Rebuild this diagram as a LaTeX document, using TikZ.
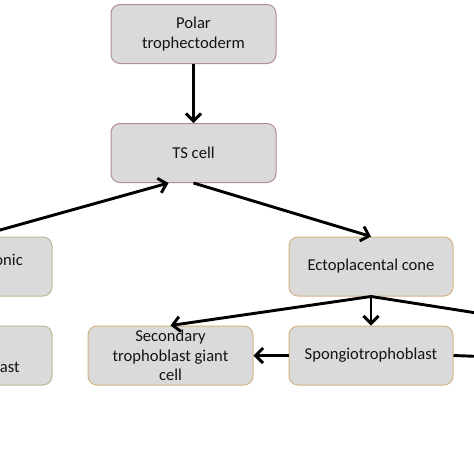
\documentclass[tikz,border=0pt]{standalone}
\usepackage{fontspec}
\setmainfont{Carlito}
\usetikzlibrary{arrows.meta}
\definecolor{boxfill}{HTML}{DADADA}
\definecolor{redline}{HTML}{B48E8E}
\definecolor{tanline}{HTML}{D4B487}
\definecolor{greenline}{HTML}{B4BE90}
\definecolor{txt}{HTML}{141414}
\begin{document}
\begin{tikzpicture}[x=1pt,y=-1pt,
  box/.style={draw, line width=1pt, fill=boxfill, rounded corners=9pt,
    minimum height=59pt, inner sep=0pt, text=txt, align=center,
    font=\fontsize{16.6}{19.5}\selectfont},
  redbox/.style={box, draw=redline, minimum width=165pt},
  tanbox/.style={box, draw=tanline, minimum width=164pt},
  greenbox/.style={box, draw=greenline, minimum width=164pt},
  frag/.style={inner sep=0pt, text=txt, font=\fontsize{16.6}{19.5}\selectfont},
  conn/.style={line width=2.9pt, black},
  arr/.style={conn, -{Straight Barb[length=7.5pt,width=15pt]}}]
\useasboundingbox (0,0) rectangle (474,474);
\fill[white] (0,0) rectangle (474,474);
\begin{scope}
\clip (0,0) rectangle (474,474);
\node[redbox] (polar) at (193.5,34) {Polar\\trophectoderm};
\node[redbox] (ts) at (193.5,153) {TS cell};
\node[tanbox] (ecto) at (371,266.5) {Ectoplacental cone};
\node[tanbox] (spongio) at (371,355.5) {Spongiotrophoblast};
\node[tanbox, minimum width=165pt] (sec) at (170.5,355.5) {Secondary\\trophoblast giant\\cell};
\node[greenbox] (lt) at (-30,266.5) {};
\node[greenbox] (lb) at (-30,355.5) {};
\node[frag, anchor=base east] (ltxt) at (23,265) {onic};
\node[frag, anchor=base east] (lbtxt) at (20,372) {ast};
\coordinate (ltop) at (-25,237);
\coordinate (rout) at (560,326);
\coordinate (sout) at (520,358);
\draw[arr] (polar.south) -- (ts.north);
\draw[arr] (ltop) -- ([xshift=-25pt]ts.south);
\draw[arr] (ts.south) -- (ecto.north);
\draw[arr] (ecto.south) -- (spongio.north);
\draw[arr] (ecto.south) -- (sec.north);
\draw[conn] (ecto.south) -- (rout);
\draw[arr] (spongio.west) -- (sec.east);
\draw[conn] (spongio.east) -- (sout);
\end{scope}
\end{tikzpicture}
\end{document}
